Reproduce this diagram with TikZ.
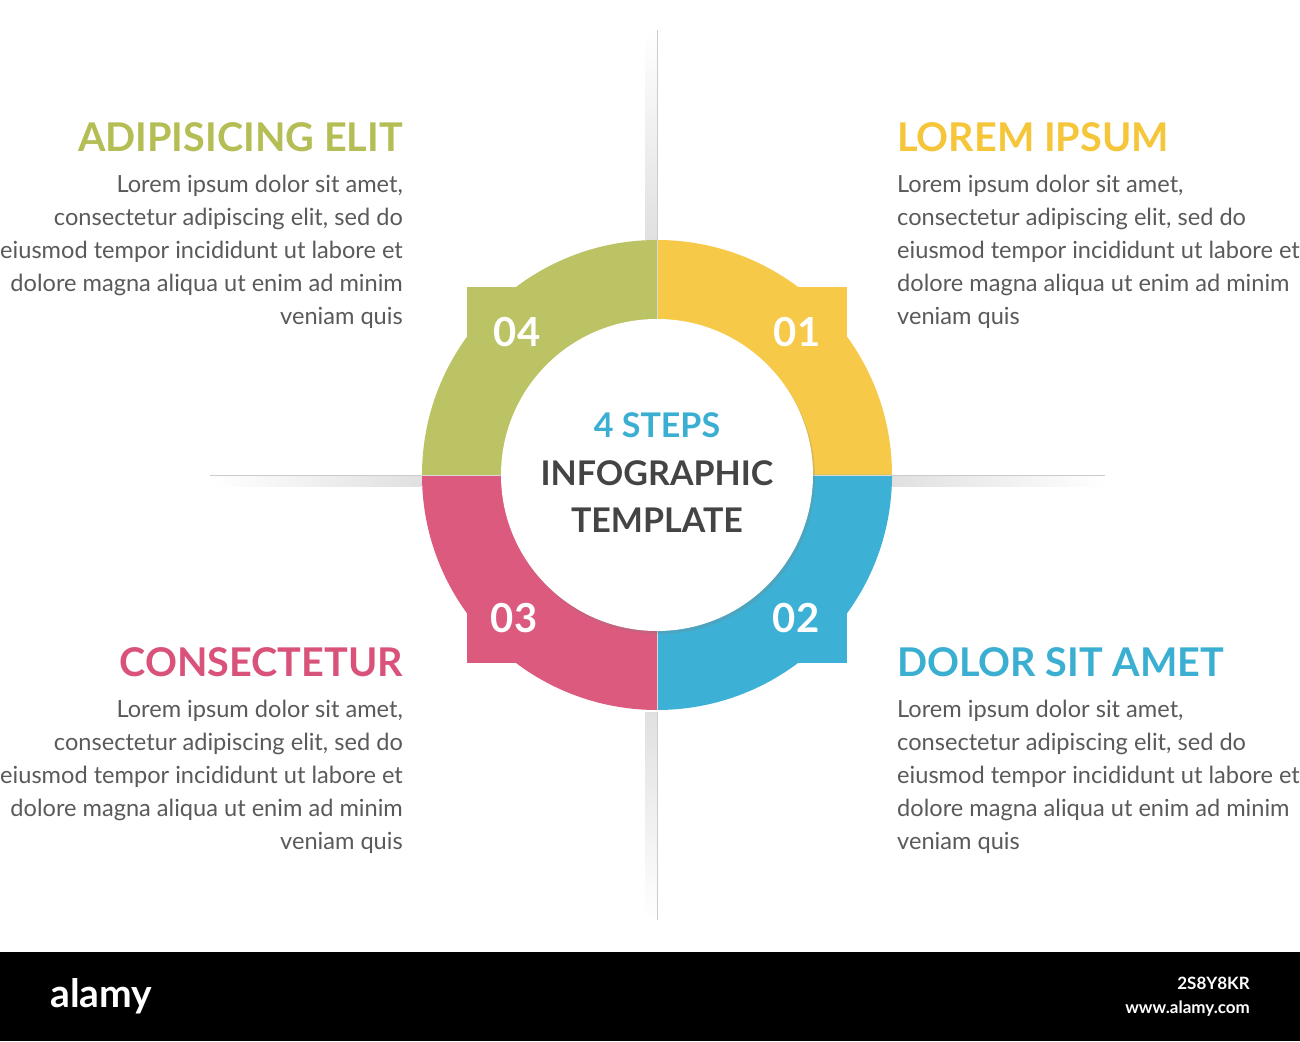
\documentclass[tikz,border=0pt]{standalone}
\usepackage{fontspec}
\setmainfont{Lato}
\usetikzlibrary{shadows,fadings}
\definecolor{cy}{HTML}{F7C948}
\definecolor{cb}{HTML}{3CB1D5}
\definecolor{cp}{HTML}{DB5A7E}
\definecolor{cg}{HTML}{BCC365}
\definecolor{ty}{HTML}{F5C53A}
\definecolor{tb}{HTML}{3AAFD2}
\definecolor{tp}{HTML}{D9527A}
\definecolor{tg}{HTML}{B5BD55}
\definecolor{body}{HTML}{5A5A5A}
\definecolor{dark}{HTML}{444444}
\tikzset{
  ttl/.style={font=\fontsize{39.6}{44}\selectfont\bfseries, inner sep=0},
  bodytxt/.style={font=\fontsize{23.6}{33}\selectfont, text=body, inner sep=0},
  num/.style={font=\fontsize{40}{44}\selectfont\bfseries, text=white, inner sep=0},
  ctr/.style={font=\fontsize{34}{38}\selectfont\bfseries, inner sep=0},
  shd/.style={fill=black, fill opacity=0.12}
}
\begin{document}
\begin{tikzpicture}[x=1pt,y=1pt]
\useasboundingbox (0,0) rectangle (1300,1041);
\fill[white] (0,0) rectangle (1300,1041);
\coordinate (c) at (657,566);
% shadow lines
\fill[shd, path fading=north] (645,1011) rectangle (657,801);
\fill[shd, path fading=south] (645,121) rectangle (657,329);
\fill[shd, path fading=west] (210,566) rectangle (422,554);
\fill[shd, path fading=east] (892,566) rectangle (1105,554);
\draw[black!20] (657,1011) -- (657,801) (657,121) -- (657,329) (210,566) -- (422,566) (892,566) -- (1105,566);
% quadrants
\fill[cy] (c) -- ++(0,235) arc[start angle=90,end angle=0,radius=235] -- cycle;
\fill[cy] (c) rectangle ++(190,188);
\fill[cb] (c) -- ++(235,0) arc[start angle=0,end angle=-90,radius=235] -- cycle;
\fill[cb] (c) rectangle ++(190,-188);
\fill[cp] (c) -- ++(0,-235) arc[start angle=-90,end angle=-180,radius=235] -- cycle;
\fill[cp] (c) rectangle ++(-190,-188);
\fill[cg] (c) -- ++(-235,0) arc[start angle=180,end angle=90,radius=235] -- cycle;
\fill[cg] (c) rectangle ++(-190,188);
\draw[black!15] (c) ++(0,235) -- ++(0,-470);
\draw[black!15] (c) ++(-235,0) -- ++(470,0);
% center circle
\node[circle, minimum size=312pt, fill=white, inner sep=0, drop shadow={shadow xshift=2pt,shadow yshift=-3pt,opacity=0.25}] (mid) at (c) {};
\node[ctr, text=tb, anchor=base] (s1) at (657,603) {4 STEPS};
\node[ctr, text=dark, anchor=base] (s2) at (657,555) {INFOGRAPHIC};
\node[ctr, text=dark, anchor=base] (s3) at (657,508) {TEMPLATE};
% numbers
\node[num] (n4) at (517,709) {04};
\node[num] (n1) at (797,709) {01};
\node[num] (n3) at (514,423) {03};
\node[num] (n2) at (796,423) {02};
% titles
\node[ttl, text=tg, anchor=base east] (t4) at (403,889) {ADIPISICING ELIT};
\node[ttl, text=ty, anchor=base west] (t1) at (897,889) {LOREM IPSUM};
\node[ttl, text=tp, anchor=base east] (t3) at (403,364) {CONSECTETUR};
\node[ttl, text=tb, anchor=base west] (t2) at (897,364) {DOLOR SIT AMET};
% bodies
\node[bodytxt, align=right, anchor=north east] (b4) at (403,866) {Lorem ipsum dolor sit amet,\\consectetur adipiscing elit, sed do\\eiusmod tempor incididunt ut labore et\\dolore magna aliqua ut enim ad minim\\veniam quis};
\node[bodytxt, align=left, anchor=north west] (b1) at (897,866) {Lorem ipsum dolor sit amet,\\consectetur adipiscing elit, sed do\\eiusmod tempor incididunt ut labore et\\dolore magna aliqua ut enim ad minim\\veniam quis};
\node[bodytxt, align=right, anchor=north east] (b3) at (403,341) {Lorem ipsum dolor sit amet,\\consectetur adipiscing elit, sed do\\eiusmod tempor incididunt ut labore et\\dolore magna aliqua ut enim ad minim\\veniam quis};
\node[bodytxt, align=left, anchor=north west] (b2) at (897,341) {Lorem ipsum dolor sit amet,\\consectetur adipiscing elit, sed do\\eiusmod tempor incididunt ut labore et\\dolore magna aliqua ut enim ad minim\\veniam quis};
% bottom bar
\fill[black] (0,0) rectangle (1300,89);
\node[font=\fontsize{39}{44}\selectfont\bfseries, text=white, inner sep=0, anchor=west] (al) at (50,45) {alamy};
\node[font=\fontsize{17}{20}\selectfont\bfseries, text=white, inner sep=0, anchor=base east] (id) at (1250,52) {2S8Y8KR};
\node[font=\fontsize{17}{20}\selectfont\bfseries, text=white, inner sep=0, anchor=base east] (ww) at (1250,28) {www.alamy.com};
\end{tikzpicture}
\end{document}
